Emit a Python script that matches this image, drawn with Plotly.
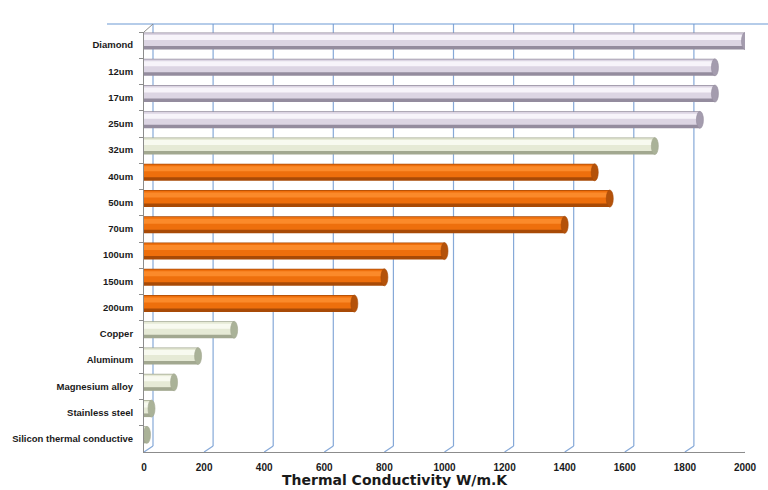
import plotly.graph_objects as go

categories = ["Diamond", "12um", "17um", "25um", "32um", "40um", "50um", "70um",
              "100um", "150um", "200um", "Copper", "Aluminum", "Magnesium alloy",
              "Stainless steel", "Silicon thermal conductive"]
values = [2000, 1900, 1900, 1850, 1700, 1500, 1550, 1400, 1000, 800, 700,
          300, 180, 100, 25, 10]
groups = ["lav", "lav", "lav", "lav", "grn", "org", "org", "org", "org", "org", "org",
          "grn", "grn", "grn", "grn", "grn"]
x_ticks = list(range(0, 2001, 200))

palette = {
    "lav": {"dark": "#948c9e", "body": "#dcd5e3", "hi": "#f7f4fa", "cap": "#a49cae"},
    "grn": {"dark": "#a2a890", "body": "#e6ead6", "hi": "#f8faf0", "cap": "#aab298"},
    "org": {"dark": "#a84a06", "body": "#ee6f0c", "hi": "#fb8a2a", "cap": "#b4520a"},
}

W = 0.65
OFF = -0.48

fig = go.Figure()
fig.add_trace(go.Bar(y=categories, x=values, orientation="h", width=W, offset=OFF,
                     marker=dict(color=[palette[g]["dark"] for g in groups], line=dict(width=0)),
                     hoverinfo="skip"))
fig.add_trace(go.Bar(y=categories, x=values, orientation="h", width=W * 0.74, offset=OFF + 0.03,
                     marker=dict(color=[palette[g]["body"] for g in groups], line=dict(width=0)),
                     hoverinfo="skip"))
fig.add_trace(go.Bar(y=categories, x=values, orientation="h", width=W * 0.30, offset=OFF + 0.09,
                     marker=dict(color=[palette[g]["hi"] for g in groups], line=dict(width=0)),
                     hoverinfo="x+y"))

shapes = []
grid_c = "#86a9d8"
axis_c = "#8c8c8c"
for v in x_ticks:
    shapes.append(dict(type="line", xref="x", xsizemode="pixel", xanchor=v, x0=0, x1=9,
                       yref="paper", ysizemode="pixel", yanchor=0, y0=0, y1=6,
                       line=dict(color=grid_c, width=1.2), layer="below"))
    shapes.append(dict(type="line", xref="x", xsizemode="pixel", xanchor=v, x0=9, x1=9,
                       yref="paper", ysizemode="pixel", yanchor=0, y0=6, y1=428,
                       line=dict(color=grid_c, width=1.2), layer="below"))
# top back-wall edge
shapes.append(dict(type="line", xref="paper", x0=-0.0616, x1=1.04,
                   yref="paper", ysizemode="pixel", yanchor=1, y0=8, y1=8,
                   line=dict(color="#6d9ad4", width=1.2), layer="below"))
# axis 3D corner at top-left
shapes.append(dict(type="line", xref="x", xsizemode="pixel", xanchor=0, x0=0, x1=9,
                   yref="paper", ysizemode="pixel", yanchor=1, y0=0, y1=8,
                   line=dict(color=axis_c, width=1)))

# cylinder end caps
for i, (v, g) in enumerate(zip(values, groups)):
    shapes.append(dict(type="circle", xref="x", xsizemode="pixel", xanchor=v, x0=-3.5, x1=3.5,
                       yref="y", y0=i + OFF, y1=i + OFF + W,
                       fillcolor=palette[g]["cap"], line=dict(color=palette[g]["dark"], width=0.6)))

fig.update_layout(
    width=768, height=490,
    margin=dict(l=144, r=23, t=32, b=38),
    paper_bgcolor="white", plot_bgcolor="rgba(0,0,0,0)",
    barmode="overlay", showlegend=False,
    shapes=shapes,
    font=dict(family="Liberation Sans Narrow, Liberation Sans, Arial", color="#1a1a1a"),
    xaxis=dict(range=[0, 2000], tickvals=x_ticks, showgrid=False, zeroline=False,
               showline=True, linecolor=axis_c, linewidth=1, ticks="", automargin=False,
               tickfont=dict(family="Liberation Sans", size=10, color="#1a1a1a", weight="bold"),
               ticklabelstandoff=6),
    yaxis=dict(type="category", categoryorder="array", categoryarray=categories,
               autorange="reversed", showgrid=False, zeroline=False, automargin=False,
               showline=True, linecolor=axis_c, linewidth=1,
               ticks="outside", tickson="boundaries", ticklen=4, tickcolor=axis_c,
               tickfont=dict(size=9.5, color="#1a1a1a", weight="bold"),
               ticklabelstandoff=8),
    annotations=[dict(text="Thermal Conductivity W/m.K", xref="paper", yref="paper",
                      x=0.4176, y=0, yshift=-28, xanchor="center", yanchor="middle",
                      showarrow=False,
                      font=dict(family="DejaVu Sans", size=14, color="#1a1a1a", weight="bold"))],
)

fig.write_html("out.html")
